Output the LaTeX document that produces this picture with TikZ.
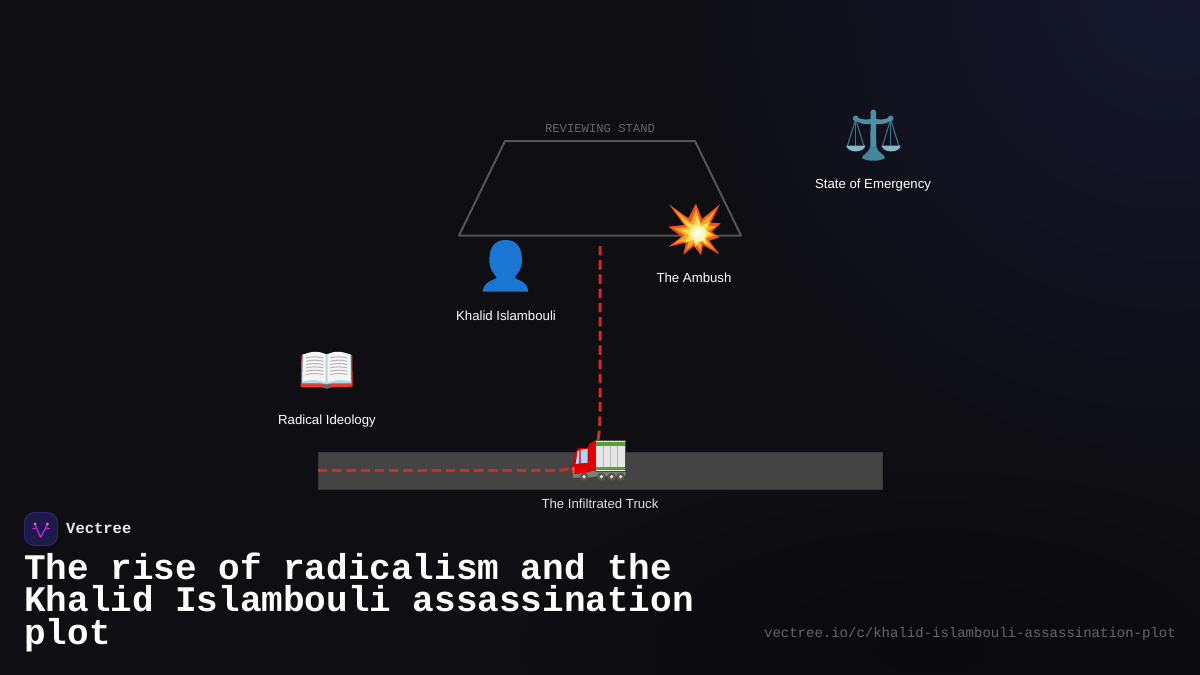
\documentclass[tikz,border=0pt]{standalone}
\usepackage{fontspec}
\setmainfont{Liberation Sans}
\setmonofont{Liberation Mono}
\definecolor{bgbase}{HTML}{0E0E13}
\definecolor{bgblue}{HTML}{15172E}
\definecolor{bgdark}{HTML}{0A0A0C}
\definecolor{roadfill}{HTML}{444444}
\definecolor{roadline}{HTML}{383838}
\definecolor{standline}{HTML}{555555}
\definecolor{pathred}{HTML}{CC2C2C}
\definecolor{muted}{HTML}{666666}
\definecolor{teal1}{HTML}{4F8FA6}
\definecolor{teal2}{HTML}{45859C}
\definecolor{tealstring}{HTML}{3F7288}
\definecolor{tealpan}{HTML}{86B8C8}
\definecolor{personblue}{HTML}{1976D2}
\definecolor{boomA}{HTML}{F4511E}
\definecolor{boomB}{HTML}{FFA726}
\definecolor{boomC}{HTML}{FFE15A}
\definecolor{boomD}{HTML}{FFF6B8}
\definecolor{boomE}{HTML}{FFFDE8}
\definecolor{bookred}{HTML}{E53935}
\definecolor{bookblue}{HTML}{ADD8E6}
\definecolor{bookpage}{HTML}{F5F5F5}
\definecolor{bookline}{HTML}{B4B4B4}
\definecolor{bookspine}{HTML}{60696E}
\definecolor{chassis}{HTML}{78807A}
\definecolor{cabred}{HTML}{DD0000}
\definecolor{cablight}{HTML}{FA5050}
\definecolor{glass}{HTML}{AAD7F5}
\definecolor{cargo}{HTML}{E6E6E6}
\definecolor{cargoline}{HTML}{B8B8B8}
\definecolor{cargogreen}{HTML}{5C9C38}
\definecolor{cargoedge}{HTML}{4A4A4A}
\definecolor{tyre}{HTML}{5E544E}
\definecolor{hub}{HTML}{E1E1E1}
\definecolor{logofill}{HTML}{1E1B4B}
\definecolor{logoedge}{HTML}{2E286E}
\definecolor{logopurple}{HTML}{C026D3}
\definecolor{logopink}{HTML}{D85AEB}
\tikzset{
  lab/.style={font=\fontsize{13.2}{15}\selectfont,text=white,inner sep=0pt,anchor=base},
  mono/.style={font=\ttfamily\fontsize{12.2}{14}\selectfont,text=muted,inner sep=0pt},
  road/.style={fill=roadfill,draw=roadline,line width=1pt},
  stand/.style={draw=standline,line width=2pt,line join=round},
  route/.style={draw=pathred,line width=3pt,dash pattern=on 9.4pt off 4.8pt},
  px/.style={x=1pt,y=-1pt},
  zoomed/.style={shift={#1},scale=0.3333},
  titleline/.style={inner sep=0pt,anchor=base west,font=\ttfamily\bfseries\fontsize{36}{36}\selectfont,text=white}
}
\begin{document}
\begin{tikzpicture}[px]
\useasboundingbox (0,0) rectangle (1200,675);
\fill[bgbase] (0,0) rectangle (1200,675);
\begin{scope}
\clip (0,0) rectangle (1200,675);
% soft dark pool at lower right
\foreach \i in {40,39,...,1}{
  \pgfmathsetmacro{\mixv}{100*(1-\i/40)}
  \fill[bgdark!\mixv!bgbase] (930,650) ellipse ({\i*11} and {\i*4.8});
}
% soft blue glow at upper right
\foreach \i in {48,47,...,1}{
  \pgfmathsetmacro{\mixv}{100*(1-\i/48)^0.85}
  \fill[bgblue!\mixv!bgbase] (1170,-10) circle ({\i*10});
}
\end{scope}

% road
\path[road] (318,452) rectangle (882,489.5);
% stand
\path[stand] (505,141) -- (695,141) -- (741,235.5) -- (459,235.5) -- cycle;
\node[mono] (standlabel) at (600,128.5) {REVIEWING STAND};

% route
\coordinate (routestart) at (318,470.5);
\coordinate (routeend) at (600,246);
\coordinate (routebend) at (598,441);
\path[route] (routestart) -- (556,470.5) .. controls (575,470) and (592,462) .. (routebend);
\path[route] (routeend) -- (600,415) .. controls (600,425) and (599,433) .. (routebend);

% person
\begin{scope}[zoomed={(440,110)}]
\fill[personblue]
  (197,390) .. controls (232,390) and (246,415) .. (246,450)
  .. controls (246,478) and (232,492) .. (224,502)
  .. controls (224,510) and (262,510) .. (265,545)
  -- (128,545)
  .. controls (131,510) and (170,510) .. (170,502)
  .. controls (162,492) and (148,478) .. (148,450)
  .. controls (148,415) and (162,390) .. (197,390) -- cycle;
\end{scope}

% explosion
\begin{scope}[zoomed={(440,110)}]
\fill[boomA] (687,283) -- (745,325) -- (768,281) -- (786,327) -- (840,283) -- (812,338) -- (842,340) -- (815,365) -- (838,382) -- (808,392) -- (838,433) -- (789,405) -- (783,435) -- (762,408) -- (730,434) -- (738,398) -- (686,410) -- (725,380) -- (685,350) -- (733,345) -- cycle;
\fill[boomB] (705,300) -- (752,338) -- (769,298) -- (782,340) -- (825,302) -- (802,346) -- (828,350) -- (803,364) -- (826,378) -- (798,385) -- (820,417) -- (785,393) -- (781,420) -- (765,396) -- (740,420) -- (747,390) -- (705,400) -- (735,376) -- (702,354) -- (741,352) -- cycle;
\fill[boomC] (732,332) -- (760,346) -- (772,316) -- (783,348) -- (810,336) -- (797,360) -- (816,372) -- (795,381) -- (802,406) -- (781,391) -- (767,410) -- (760,390) -- (732,398) -- (748,376) -- (726,362) -- (750,357) -- cycle;
\fill[boomD] (775,371) circle (24);
\fill[boomE] (775,371) circle (13);
\end{scope}

% book
\begin{scope}[zoomed={(260,330)}]
\fill[bookred] (124,76) -- (140,72) -- (260,72) -- (277,76) -- (278,170) -- (215,172) -- (200,176) -- (185,172) -- (122,172) -- cycle;
\fill[bookblue] (128,72) -- (272,72) -- (274,160) -- (215,160) -- (200,166) -- (185,160) -- (126,160) -- cycle;
\fill[bookpage] (130,74) .. controls (155,62) and (180,64) .. (197,72) -- (197,158) .. controls (180,150) and (155,148) .. (128,154) -- cycle;
\fill[bookpage] (270,74) .. controls (245,62) and (220,64) .. (203,72) -- (203,158) .. controls (220,150) and (245,148) .. (272,154) -- cycle;
\foreach \yy in {84,94,104,114,124,134}{
  \draw[bookline,line width=1pt] (138,\yy) .. controls (155,\yy-5) and (175,\yy-4) .. (190,\yy);
  \draw[bookline,line width=1pt] (262,\yy) .. controls (245,\yy-5) and (225,\yy-4) .. (210,\yy);
}
\fill[bookspine] (191,160) -- (200,164) -- (209,160) -- (207,172) -- (200,176) -- (193,172) -- cycle;
\end{scope}

% scales
\begin{scope}[zoomed={(800,90)}]
\draw[tealstring,line width=1.1pt] (167,88) -- (141,172) (167,88) -- (193,172);
\draw[tealstring,line width=1.1pt] (272,88) -- (246,172) (272,88) -- (298,172);
\draw[tealstring,line width=0.7pt] (167,88) -- (167,172) (272,88) -- (272,172);
\fill[tealpan] (139,167) -- (196,167) .. controls (192,190) and (143,190) .. (139,167) -- cycle;
\fill[tealpan] (245,167) -- (302,167) .. controls (298,190) and (249,190) .. (245,167) -- cycle;
\fill[teal1] (167,80) .. controls (190,92) and (205,90) .. (220,84) .. controls (235,90) and (250,92) .. (272,80) -- (272,92) .. controls (250,106) and (235,104) .. (220,100) .. controls (205,104) and (190,106) .. (167,92) -- cycle;
\fill[teal1] (212,66) -- (228,66) -- (229,180) -- (211,180) -- cycle;
\fill[teal1] (220,67) circle (8.5) (167,85) circle (8.5) (272,85) circle (8.5);
\fill[teal2] (211,170) -- (229,170) .. controls (232,188) and (256,194) .. (255,204) .. controls (240,215) and (200,215) .. (186,204) .. controls (186,194) and (208,188) .. (211,170) -- cycle;
\end{scope}

% truck
\begin{scope}[zoomed={(560,425)}]
\fill[chassis] (38,146) -- (108,136) -- (197,136) -- (197,152) -- (110,154) -- (85,158) -- (40,158) -- cycle;
\fill[cabred] (36,128) -- (45,84) -- (54,70) -- (84,68) -- (88,56) -- (104,47) -- (108,47) -- (108,134) -- (84,142) -- (38,148) -- cycle;
\fill[cablight] (36,128) -- (44,125) -- (44,145) -- (38,147) -- cycle;
\fill[glass] (62,74) -- (83,72) -- (83,113) -- (62,115) -- cycle;
\fill[glass] (53,78) -- (58,76) -- (58,115) -- (47,117) -- cycle;
\fill[cargo] (107,47) rectangle (197,140);
\foreach \xx in {129,151,173} \draw[cargoline,line width=1pt] (\xx,62) -- (\xx,128);
\fill[cargogreen] (107,52) rectangle (197,62);
\fill[cargogreen] (107,127) rectangle (197,136);
\draw[cargoedge,line width=0.7pt] (107,47) -- (197,47) -- (197,140) -- (107,140) -- cycle;
\foreach \xx in {72,124,155,182}{
  \fill[tyre] (\xx,155) circle (12.5);
  \fill[hub] (\xx,155) circle (5.5);
}
\end{scope}

% logo
\node[draw=logoedge,fill=logofill,line width=1pt,rounded corners=10pt,minimum size=33pt,inner sep=0pt] (logo) at (41,529) {};
\begin{scope}[zoomed={(20,508)},line cap=round,line join=round]
\draw[logopurple,line width=1.3pt] (45,50) -- (62,88) -- (82,50);
\draw[logopurple,line width=1pt] (38,62) -- (50,62) (90,62) -- (76,62);
\fill[logopink] (45,48) circle (5) (82,48) circle (5);
\end{scope}

% labels
\node[lab] (khalid) at (506,320) {Khalid Islambouli};
\node[lab] (ambush) at (694,282) {The Ambush};
\node[lab] (state) at (873,188) {State of Emergency};
\node[lab] (ideology) at (327,424) {Radical Ideology};
\node[lab,text=white!88!black] (trucklabel) at (600,508) {The Infiltrated Truck};

% brand and title
\node[inner sep=0pt,anchor=base west,font=\ttfamily\bfseries\fontsize{15.5}{18}\selectfont,text=white!92!black] (brand) at (66,533) {Vectree};
\node[titleline] (t1) at (24,579.5) {The rise of radicalism and the};
\node[titleline] (t2) at (24,611.9) {Khalid Islambouli assassination};
\node[titleline] (t3) at (24,644.3) {plot};
\node[inner sep=0pt,anchor=base east,font=\ttfamily\fontsize{14}{16}\selectfont,text=muted] (url) at (1176,637) {vectree.io/c/khalid-islambouli-assassination-plot};
\end{tikzpicture}
\end{document}
